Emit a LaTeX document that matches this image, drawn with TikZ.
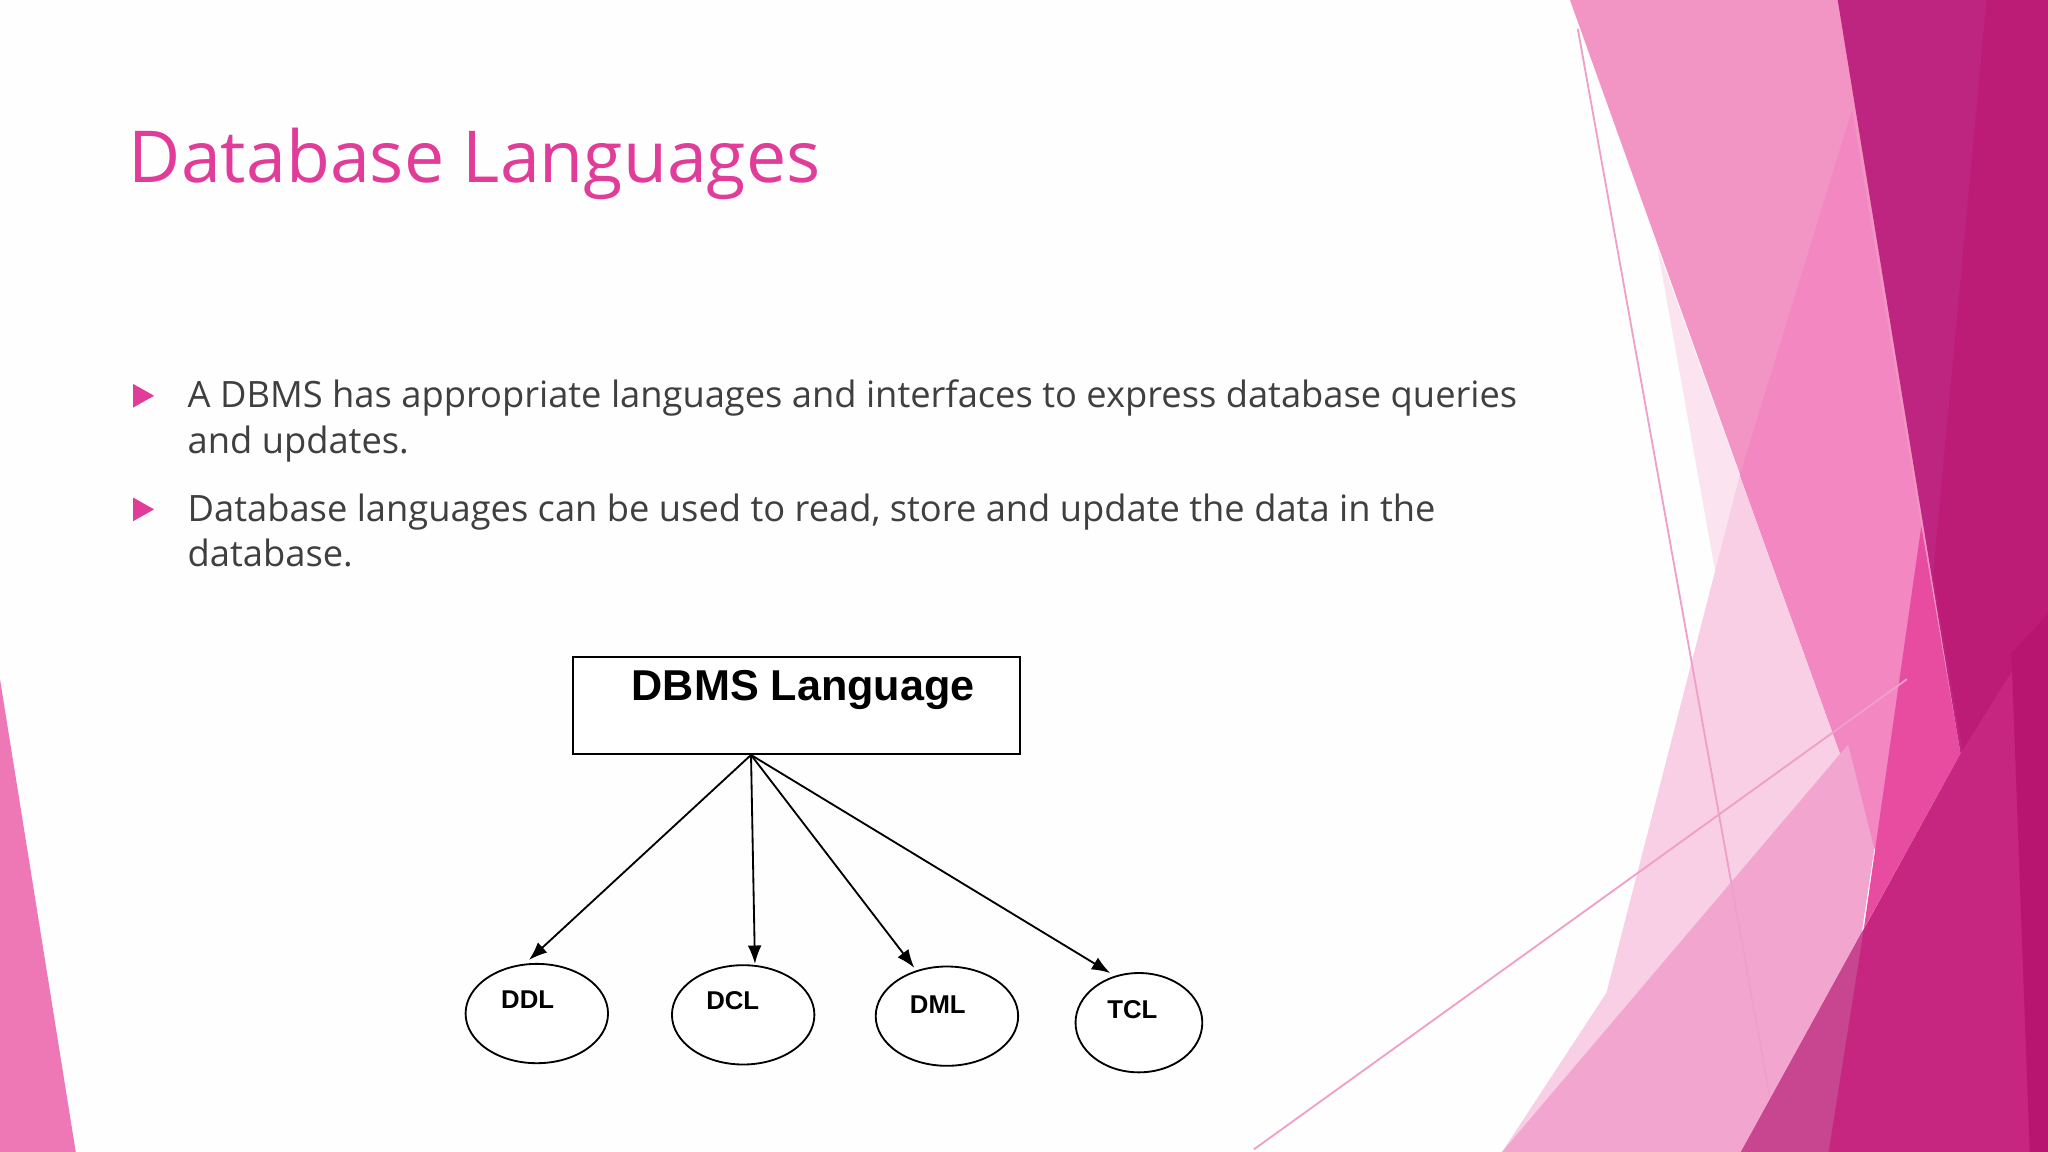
\documentclass[tikz,border=0pt]{standalone}
\usepackage{fontspec}
\setmainfont{Open Sans}
\newfontfamily\arialb{Liberation Sans}
\usetikzlibrary{arrows.meta,shapes.geometric}
\definecolor{ttl}{HTML}{E23C9A}
\definecolor{txt}{HTML}{3F3F3F}
\definecolor{c1}{HTML}{EE77B5}
\definecolor{c2}{HTML}{F295C5}
\definecolor{c3}{HTML}{F287C1}
\definecolor{c4}{HTML}{FBE3EF}
\definecolor{c5}{HTML}{F8CFE4}
\definecolor{c6}{HTML}{F2A6CF}
\definecolor{c7}{HTML}{BE2580}
\definecolor{c8}{HTML}{BC1B76}
\definecolor{c9}{HTML}{E84CA0}
\definecolor{c10}{HTML}{C62680}
\definecolor{c11}{HTML}{B81570}
\definecolor{c12}{HTML}{C8468F}
\definecolor{cl}{HTML}{F0A0C8}
\begin{document}
\begin{tikzpicture}[x=0.01cm,y=-0.01cm,
  btxt/.style={anchor=base west,text=txt,font=\fontsize{7.9}{10}\selectfont,inner sep=0},
  lang/.style={draw,ellipse,minimum width=1.09cm,minimum height=0.76cm,inner sep=0,line width=0.4pt},
  lbl/.style={font=\arialb\bfseries\fontsize{5.6}{6}\selectfont,inner sep=0},
  arr/.style={-{Latex[length=4pt,width=3pt]},line width=0.4pt}]
\useasboundingbox (0,0) rectangle (1568,882);
\fill[white!98!pink] (0,0) rectangle (1568,882);
% left decoration
\fill[c1] (0,520) -- (58,882) -- (0,882) -- cycle;
% right decoration
\fill[c2] (1202,0) -- (1418,0) -- (1501,577) -- (1435,650) -- cycle;
\fill[c3] (1418,84) -- (1471,403) -- (1501,577) -- (1435,650) -- (1332,364) -- cycle;
\fill[c4] (1269,190) -- (1332,364) -- (1380,560) -- (1349,638) -- cycle;
\fill[c5] (1332,364) -- (1435,650) -- (1380,720) -- (1150,882) -- (1230,760) -- cycle;
\fill[c6] (1150,882) -- (1415,570) -- (1435,650) -- (1400,882) -- cycle;
\fill[c7] (1407,0) -- (1568,0) -- (1568,882) -- (1554,882) -- (1501,577) -- cycle;
\fill[c8] (1521,0) -- (1568,0) -- (1568,882) -- (1554,882) -- (1480,440) -- cycle;
\fill[c9] (1471,403) -- (1501,577) -- (1427,711) -- cycle;
\fill[c10] (1501,577) -- (1568,470) -- (1568,882) -- (1333,882) -- cycle;
\fill[c11] (1540,500) -- (1568,470) -- (1568,882) -- (1554,882) -- cycle;
\fill[c12] (1333,882) -- (1427,711) -- (1400,882) -- cycle;
\draw[cl,line width=0.4pt] (960,880) -- (1460,520);
\draw[cl,line width=0.4pt] (1208,22) -- (1355,840);
% title
\node[anchor=base west,text=ttl,font=\fontsize{15.6}{19}\selectfont,inner sep=0] (title) at (98,140) {Database Languages};
% bullets
\fill[ttl] (102,294) -- (118,303) -- (102,312) -- cycle;
\fill[ttl] (102,381) -- (118,390) -- (102,399) -- cycle;
\node[btxt] (b1) at (143,312) {A DBMS has appropriate languages and interfaces to express database queries};
\node[btxt] (b1b) at (143,347) {and updates.};
\node[btxt] (b2) at (143,399) {Database languages can be used to read, store and update the data in the};
\node[btxt] (b2b) at (143,434) {database.};
% diagram
\node[draw,line width=0.5pt,minimum width=3.42cm,minimum height=0.74cm,inner sep=0,fill=white] (box) at (610,540) {};
\node[font=\arialb\bfseries\fontsize{9.4}{10}\selectfont,inner sep=0] (boxt) at (615,528) {DBMS Language};
\coordinate (o) at (575,578);
\node[lang,fill=white] (ddl) at (411,776) {};
\node[lang,fill=white] (dcl) at (569,777) {};
\node[lang,fill=white] (dml) at (725,778) {};
\node[lang,fill=white,minimum width=0.97cm] (tcl) at (872,783) {};
\node[lbl] at (404,765) {DDL};
\node[lbl] at (561,766) {DCL};
\node[lbl] at (718,769) {DML};
\node[lbl] at (867,773) {TCL};
\draw[arr] (o) -- (405,735);
\draw[arr] (o) -- (578,738);
\draw[arr] (o) -- (700,741);
\draw[arr] (o) -- (850,745);
\end{tikzpicture}
\end{document}
